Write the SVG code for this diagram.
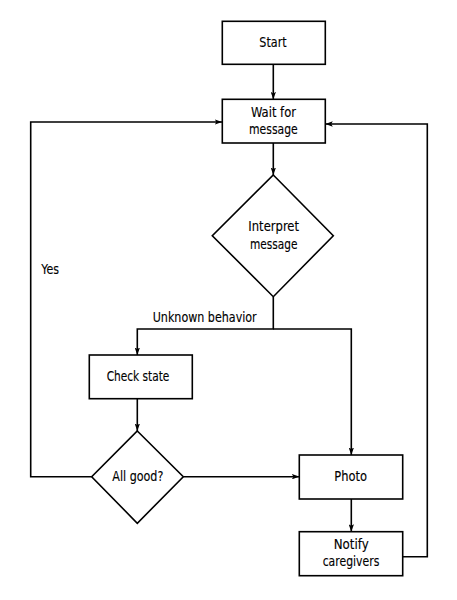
<svg xmlns="http://www.w3.org/2000/svg" width="457" height="600" viewBox="0 0 457 600">
<style>
.n{fill:#fff;stroke:#000;stroke-width:1.6}
.t{font-family:"DejaVu Sans Condensed","Liberation Sans Narrow","DejaVu Sans",sans-serif;font-size:14.5px;fill:#000;stroke:#000;stroke-width:0.12;text-anchor:middle}
.c{fill:none;stroke:#000;stroke-width:1.6}
</style>
<defs>
<marker id="a" viewBox="0 0 14 10" refX="14" refY="5" markerWidth="7.5" markerHeight="5.4" markerUnits="userSpaceOnUse" orient="auto"><path d="M0,0L14,5L0,10L3,5z" fill="#000"/></marker>
</defs>
<rect width="457" height="600" fill="#fff"/>
<g id="connectors">
<path class="c" d="M273.3,64.3V99.3" marker-end="url(#a)"/>
<path class="c" d="M273.3,143V175" marker-end="url(#a)"/>
<path class="c" d="M273.3,297V329H137.3V355" marker-end="url(#a)"/>
<path class="c" d="M273.3,329H351.3V455" marker-end="url(#a)"/>
<path class="c" d="M137.3,398.7V431" marker-end="url(#a)"/>
<path class="c" d="M183.3,476.7H299.3" marker-end="url(#a)"/>
<path class="c" d="M91.7,476.7H30.7V122H222.3" marker-end="url(#a)"/>
<path class="c" d="M351.3,499V531.7" marker-end="url(#a)"/>
<path class="c" d="M402.7,556.7H427.3V124H325.3" marker-end="url(#a)"/>
<text class="t" x="50.2" y="274" textLength="17.7" lengthAdjust="spacingAndGlyphs">Yes</text>
<text class="t" x="204.7" y="322" textLength="104" lengthAdjust="spacingAndGlyphs">Unknown behavior</text>
</g>
<g id="start"><rect class="n" x="222.3" y="21.3" width="103" height="43"/><text class="t" x="273" y="47.3" textLength="27.3" lengthAdjust="spacingAndGlyphs">Start</text></g>
<g id="wait"><rect class="n" x="222.3" y="99.3" width="103" height="43.7"/><text class="t" x="273.5" y="116.7" textLength="45" lengthAdjust="spacingAndGlyphs">Wait for</text><text class="t" x="273.4" y="134" textLength="48.7" lengthAdjust="spacingAndGlyphs">message</text></g>
<g id="interpret"><path class="n" d="M273.3,175L333.3,235.7L273.3,296.7L212.3,235.7Z"/><text class="t" x="273.7" y="231" textLength="50.7" lengthAdjust="spacingAndGlyphs">Interpret</text><text class="t" x="273.7" y="248.5" textLength="47.5" lengthAdjust="spacingAndGlyphs">message</text></g>
<g id="check"><rect class="n" x="89.3" y="355" width="103" height="43.7"/><text class="t" x="138" y="380.7" textLength="62.7" lengthAdjust="spacingAndGlyphs">Check state</text></g>
<g id="allgood"><path class="n" d="M137.3,431L183.3,476.7L137.3,523.3L91.7,476.7Z"/><text class="t" x="137.8" y="481" textLength="51" lengthAdjust="spacingAndGlyphs">All good?</text></g>
<g id="photo"><rect class="n" x="299.3" y="455" width="103.4" height="44"/><text class="t" x="350.7" y="481" textLength="32.7" lengthAdjust="spacingAndGlyphs">Photo</text></g>
<g id="notify"><rect class="n" x="299.3" y="531.7" width="103.4" height="44"/><text class="t" x="351.2" y="548.8" textLength="35" lengthAdjust="spacingAndGlyphs">Notify</text><text class="t" x="351" y="566.3" textLength="56.7" lengthAdjust="spacingAndGlyphs">caregivers</text></g>
</svg>
